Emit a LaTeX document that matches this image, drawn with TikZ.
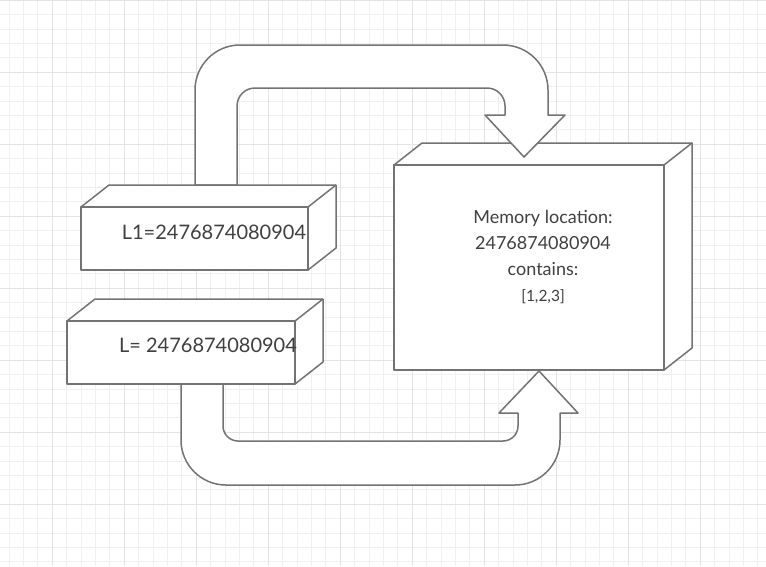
\documentclass[tikz,border=0pt]{standalone}
\usepackage{fontspec}
\setmainfont{Lato}
\begin{document}
\begin{tikzpicture}[x=1pt,y=-1pt,
  ln/.style={draw=black!55,line width=1.5pt,fill=white,line join=round},
  txt/.style={text=black!75,font=\fontsize{18}{26}\selectfont},
  lbl/.style={text=black!75,font=\fontsize{20}{24}\selectfont}]
\useasboundingbox (0,0) rectangle (766,566);
\fill[white] (0,0) rectangle (766,566);
\foreach \i in {0,...,54} {\draw[black!6,line width=0.6pt] ({-5.6+\i*14.4},0) -- ({-5.6+\i*14.4},566);}
\foreach \i in {0,...,40} {\draw[black!6,line width=0.6pt] (0,{\i*14.4}) -- (766,{\i*14.4});}
\foreach \i in {0,...,10} {\draw[black!11,line width=0.8pt] ({-20+\i*72},0) -- ({-20+\i*72},566);}
\foreach \i in {0,...,7} {\draw[black!11,line width=0.8pt] (0,{\i*72}) -- (766,{\i*72});}
% memory box
\path[ln] (394,165) -- (422,143) -- (692,143) -- (692,348) -- (664,370) -- (664,165) -- cycle;
\draw[ln] (664,165) -- (692,143);
\node[ln,minimum width=270pt,minimum height=205pt,inner sep=0pt] (mem) at (529,267.5) {};
\node[txt,align=center] (memt) at (543,257) {Memory location:\\2476874080904\\contains:\\{\fontsize{15.5}{20}\selectfont[1,2,3]}};
% top arrow
\path[ln] (195,185) [rounded corners=45pt]-- (195,45) -- (548,45) [sharp corners]-- (548,115) -- (565,115) -- (524,157) -- (485,115) -- (505,115) [rounded corners=18pt]-- (505,88) -- (237,88) [sharp corners]-- (237,185) -- cycle;
% bottom arrow
\path[ln] (181,384) [rounded corners=45pt]-- (181,485) -- (560,485) [sharp corners]-- (560,413) -- (578,413) -- (539,371) -- (499,413) -- (518,413) [rounded corners=15pt]-- (518,441) -- (223,441) [sharp corners]-- (223,384) -- cycle;
% L1 box
\path[ln] (81,207) -- (109,185) -- (336,185) -- (336,248) -- (308,270) -- (308,207) -- cycle;
\draw[ln] (308,207) -- (336,185);
\node[ln,minimum width=227pt,minimum height=63pt,inner sep=0pt] (l1) at (194.5,238.5) {};
\node[lbl] (l1t) at (214,232) {L1=2476874080904};
% L box
\path[ln] (67,321) -- (95,299) -- (323,299) -- (323,362) -- (295,384) -- (295,321) -- cycle;
\draw[ln] (295,321) -- (323,299);
\node[ln,minimum width=228pt,minimum height=63pt,inner sep=0pt] (l) at (181,352.5) {};
\node[lbl] (lt) at (208,345) {L= 2476874080904};
\end{tikzpicture}
\end{document}
